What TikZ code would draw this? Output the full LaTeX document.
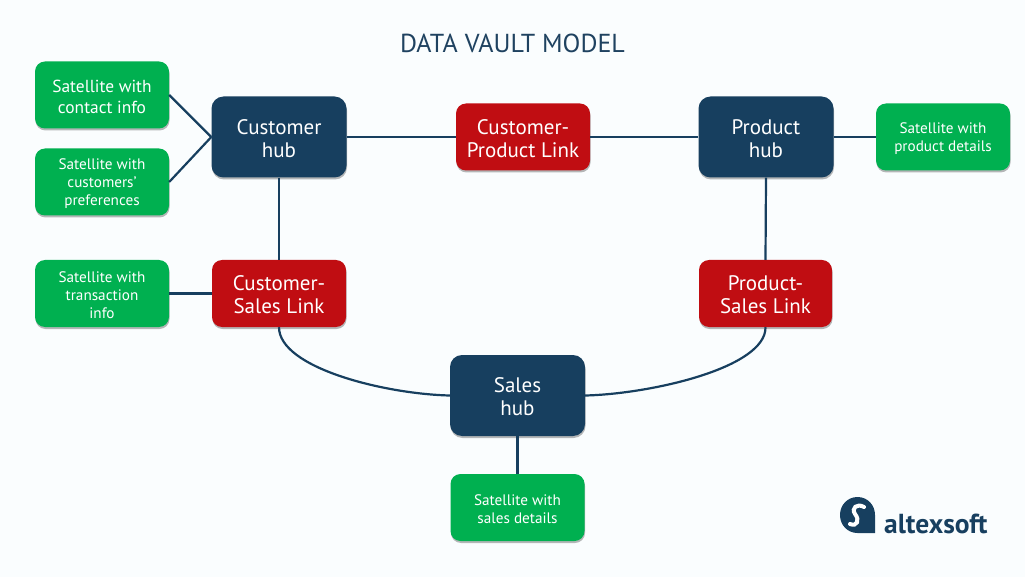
\documentclass[tikz,border=0pt]{standalone}
\usepackage{fontspec}
\setmainfont{PT Sans}
\usetikzlibrary{shadows,calc}
\definecolor{navy}{HTML}{173F5F}
\definecolor{lnk}{HTML}{C00D12}
\definecolor{sat}{HTML}{00B050}
\definecolor{bg}{HTML}{FAFDFE}
\definecolor{ttl}{HTML}{1F4260}
\tikzset{x=1pt,y=-1pt,
 box/.style={rounded corners=10pt,inner sep=0pt,draw=none,
   drop shadow={shadow xshift=0.5pt,shadow yshift=-2pt,opacity=.28,fill=black}},
 hubbox/.style={box,rounded corners=12pt,fill=navy},
 lnkbox/.style={box,fill=lnk},
 satbox/.style={box,fill=sat},
 boxtext/.style={text=white,align=center,inner sep=0pt,yshift=-1.6pt},
 bigtext/.style={boxtext,font=\fontsize{21}{23}\selectfont},
 midtext/.style={boxtext,font=\fontsize{17.4}{21}\selectfont},
 smalltext/.style={boxtext,font=\fontsize{15.2}{18}\selectfont},
 conn/.style={draw=navy,line width=2.2pt}}
\newcommand{\bx}[7]{\node[#1,minimum width=#4pt,minimum height=#5pt,label={[#7,name=#2t]center:{#6}}] (#2) at (#3) {};}
\begin{document}
\begin{tikzpicture}
\useasboundingbox[fill=bg] (0,0) rectangle (1025,577);
\node[text=ttl,font=\fontsize{26}{28}\selectfont] (title) at (512.5,43) {DATA VAULT MODEL};
\bx{hubbox}{chub}{279,137}{135}{81}{Customer\\hub}{bigtext}
\bx{hubbox}{phub}{766,137}{135}{81}{Product\\hub}{bigtext}
\bx{hubbox}{shub}{517.5,395.5}{135}{81}{Sales\\hub}{bigtext}
\bx{lnkbox}{cpl}{523,137}{134}{67}{Customer-\\Product Link}{bigtext}
\bx{lnkbox}{csl}{279,293.5}{134}{67}{Customer-\\Sales Link}{bigtext}
\bx{lnkbox}{psl}{765.5,293.5}{133}{67}{Product-\\Sales Link}{bigtext}
\bx{satbox}{s1}{102,95}{134}{67}{Satellite with\\contact info}{midtext}
\bx{satbox}{s2}{102,182}{134}{67}{Satellite with\\customers'\\preferences}{smalltext}
\bx{satbox}{s3}{102,293.5}{134}{67}{Satellite with\\transaction\\info}{smalltext}
\bx{satbox}{s4}{943,137}{134}{67}{Satellite with\\product details}{smalltext}
\bx{satbox}{s5}{517.5,507.5}{134}{67}{Satellite with\\sales details}{smalltext}
\draw[conn] (s1.east) -- (chub.west);
\draw[conn] (s2.east) -- (chub.west);
\draw[conn] (chub.east) -- (cpl.west);
\draw[conn] (cpl.east) -- (phub.west);
\draw[conn] (phub.east) -- (s4.west);
\draw[conn] (chub.south) -- (csl.north);
\draw[conn] (phub.south) -- (psl.north);
\draw[conn] (s3.east) -- (csl.west);
\draw[conn] (shub.south) -- (s5.north);
\draw[conn] (csl.south) .. controls (279,368) and (385,394) .. (shub.west);
\draw[conn] (psl.south) .. controls (766,368) and (650,394) .. (shub.east);
% logo
\fill[navy] (857.5,497) .. controls (867.5,497) and (875,505) .. (875,515) -- (875,533) -- (857.5,533) .. controls (847.5,533) and (840,525) .. (840,515) .. controls (840,505) and (847.5,497) .. (857.5,497) -- cycle;
\draw[white,line width=4pt,line cap=round] (864,507) .. controls (857,503) and (851,508) .. (855,514) .. controls (860,520) and (857,527) .. (850,524);
\node[anchor=base west,text=navy,font=\fontsize{27.5}{30}\selectfont\bfseries,inner sep=0pt] (logo) at (884,533) {altexsoft};
\end{tikzpicture}
\end{document}
